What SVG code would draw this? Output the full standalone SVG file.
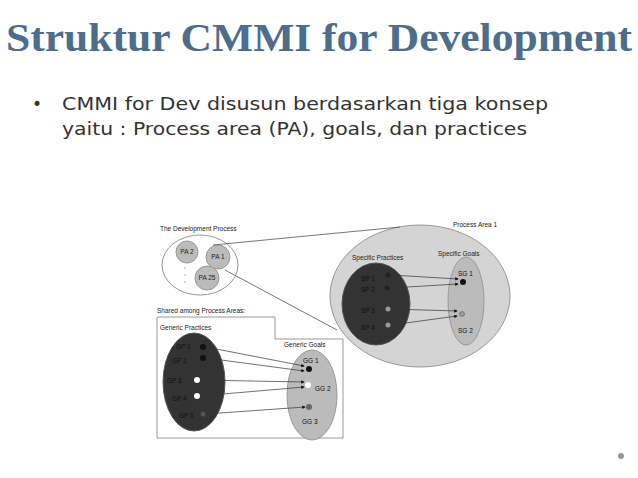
<svg xmlns="http://www.w3.org/2000/svg" width="638" height="478" viewBox="0 0 638 478">
<defs>
<style>
.t{font-family:"Liberation Sans",Arial,sans-serif;font-size:6.5px;fill:#222}
.l{stroke:#555;stroke-width:0.8;fill:none}
</style>
<marker id="a" markerWidth="5" markerHeight="5" refX="4" refY="2.5" orient="auto"><path d="M0,0L5,2.5L0,5z" fill="#111"/></marker>
</defs>
<rect width="638" height="478" fill="#fff"/>
<text x="6" y="51" font-family="Liberation Serif,serif" font-size="40" font-weight="bold" fill="#4d6d8c" textLength="626" lengthAdjust="spacingAndGlyphs">Struktur CMMI for Development</text>
<g font-family="DejaVu Sans,sans-serif" font-size="17" fill="#333">
<text x="32" y="110">•</text>
<text x="62" y="110" textLength="486" lengthAdjust="spacingAndGlyphs">CMMI for Dev disusun berdasarkan tiga konsep</text>
<text x="62" y="135" textLength="465" lengthAdjust="spacingAndGlyphs">yaitu : Process area (PA), goals, dan practices</text>
</g>
<circle cx="621" cy="456" r="3" fill="#999"/>
<g id="dev">
<text class="t" x="160" y="231">The Development Process</text>
<ellipse cx="200" cy="265" rx="38" ry="30" fill="#fff" stroke="#999"/>
<circle cx="187" cy="252" r="11" fill="#bbb" stroke="#999"/>
<text class="t" x="187" y="254" text-anchor="middle">PA 2</text>
<circle cx="218" cy="257" r="12" fill="#bbb" stroke="#999"/>
<text class="t" x="218" y="259" text-anchor="middle">PA 1</text>
<circle cx="207" cy="278" r="12" fill="#bbb" stroke="#999"/>
<text class="t" x="207" y="280" text-anchor="middle">PA 25</text>
<g fill="#ccc"><circle cx="185" cy="268" r="1"/><circle cx="185" cy="275" r="1"/><circle cx="185" cy="282" r="1"/></g>
</g>
<g id="pa1">
<text class="t" x="453" y="227">Process Area 1</text>
<ellipse cx="420" cy="296" rx="90" ry="71" fill="#d4d4d4" stroke="#999"/>
<text class="t" x="352" y="260">Specific Practices</text>
<text class="t" x="438" y="256">Specific Goals</text>
<ellipse cx="376" cy="304" rx="34" ry="41" fill="#333" stroke="#555"/>
<ellipse cx="466" cy="301" rx="18" ry="44" fill="#bbb" stroke="#999"/>
<g class="t" style="fill:#111"><text x="361" y="281">SP 1</text><text x="361" y="292">SP 2</text><text x="361" y="313">SP 3</text><text x="361" y="330">SP 4</text>
<text x="458" y="276">SG 1</text><text x="458" y="333">SG 2</text></g>
<circle cx="388" cy="275" r="2.5" fill="#222"/><circle cx="387" cy="288" r="2.5" fill="#222"/>
<circle cx="388" cy="309" r="2.5" fill="#999"/><circle cx="388" cy="325" r="2.5" fill="#999"/>
<circle cx="463" cy="282" r="3" fill="#111"/><circle cx="462" cy="314" r="2.5" fill="#999" stroke="#555" stroke-width="0.5"/>
</g>
<g id="shared">
<text class="t" x="157" y="313">Shared among Process Areas:</text>
<path d="M157,317H275V339H343V438H157Z" fill="#fff" stroke="#999"/>
<text class="t" x="160" y="330">Generic Practices</text>
<text class="t" x="284" y="347">Generic Goals</text>
<ellipse cx="194" cy="382" rx="31" ry="49" fill="#333" stroke="#555"/>
<ellipse cx="312" cy="395" rx="25" ry="45" fill="#bbb" stroke="#999"/>
<g class="t" style="fill:#111"><text x="176" y="349">GP 1</text><text x="172" y="363">GP 2</text><text x="167" y="383">GP 3</text><text x="172" y="401">GP 4</text><text x="179" y="418">GP 5</text>
<text x="303" y="363">GG 1</text><text x="315" y="391">GG 2</text><text x="302" y="424">GG 3</text></g>
<circle cx="203" cy="347" r="3" fill="#111"/><circle cx="203" cy="358" r="3" fill="#111"/>
<circle cx="197" cy="380" r="3" fill="#fff"/><circle cx="197" cy="396" r="3" fill="#fff"/><circle cx="203" cy="414" r="2.5" fill="#555"/>
<circle cx="309" cy="369" r="3" fill="#111"/><circle cx="308" cy="385" r="3" fill="#fff"/><circle cx="309" cy="407" r="3" fill="#666"/>
</g>
<g id="connectors">
<line class="l" x1="213" y1="245" x2="400" y2="227"/>
<line class="l" x1="225" y1="270" x2="337" y2="330"/>
<g stroke="#333" stroke-width="0.7" marker-end="url(#a)">
<line x1="391" y1="275" x2="458" y2="279"/>
<line x1="390" y1="288" x2="458" y2="284"/>
<line x1="391" y1="309" x2="457" y2="311"/>
<line x1="391" y1="325" x2="457" y2="316"/>
<line x1="206" y1="347" x2="304" y2="366"/>
<line x1="206" y1="358" x2="304" y2="371"/>
<line x1="200" y1="380" x2="304" y2="382"/>
<line x1="200" y1="396" x2="304" y2="387"/>
<line x1="206" y1="414" x2="305" y2="407"/>
</g>
</g>
</svg>
